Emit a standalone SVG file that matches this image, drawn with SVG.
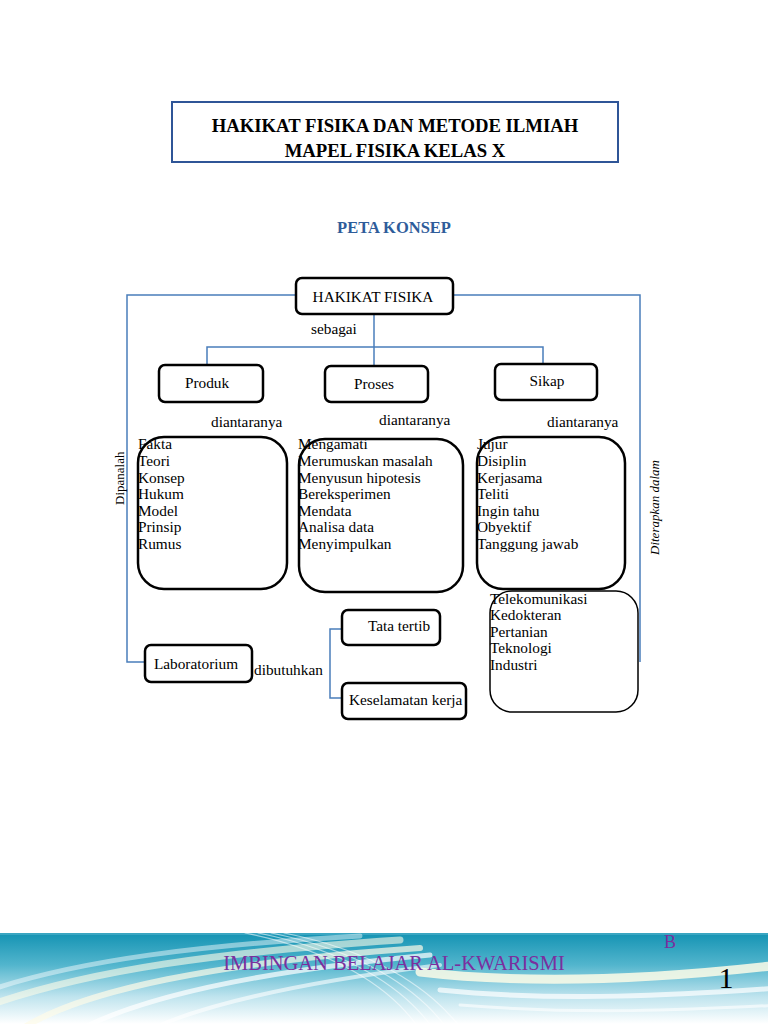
<svg xmlns="http://www.w3.org/2000/svg" width="768" height="1024" viewBox="0 0 768 1024">
<defs>
<linearGradient id="bg" x1="0" y1="0" x2="0" y2="1">
<stop offset="0" stop-color="#1493b3"/>
<stop offset="0.35" stop-color="#52b5cd"/>
<stop offset="0.7" stop-color="#bfe4ee"/>
<stop offset="1" stop-color="#ffffff"/>
</linearGradient>
<clipPath id="bannerClip"><rect x="0" y="933" width="768" height="91"/></clipPath>
</defs>
<style>
.t{font-family:"Liberation Serif","Times New Roman",serif;font-size:15.3px;fill:#000}
.node{fill:#fff;stroke:#000;stroke-width:2.5}
.list{fill:#fff;stroke:#000;stroke-width:2.5}
.conn{fill:none;stroke:#4a7ebb;stroke-width:1.5}
.title{font-family:"Liberation Serif","Times New Roman",serif;font-weight:bold;font-size:18.7px;fill:#000}
</style>
<rect width="768" height="1024" fill="#fff"/>

<g id="title">
<rect x="172" y="102" width="446" height="60" fill="#fff" stroke="#2f5597" stroke-width="2"/>
<text class="title" x="395" y="132" text-anchor="middle">HAKIKAT FISIKA DAN METODE ILMIAH</text>
<text class="title" x="395" y="157" text-anchor="middle">MAPEL FISIKA KELAS X</text>
</g>
<text x="394" y="233" text-anchor="middle" style="font-family:'Liberation Serif',serif;font-weight:bold;font-size:16.5px;fill:#2e5c9a">PETA KONSEP</text>

<g id="connectors">
<path class="conn" d="M296 295 H127 V662 H145"/>
<path class="conn" d="M453 295 H640 V662"/>
<path class="conn" d="M374 314 V366"/>
<path class="conn" d="M207 365 V347 H543 V364"/>
<path class="conn" d="M342 629 H330 V698 H342"/>
</g>

<text class="t" x="311" y="334">sebagai</text>
<text class="t" x="211" y="427">diantaranya</text>
<text class="t" x="379" y="425">diantaranya</text>
<text class="t" x="547" y="427">diantaranya</text>
<text class="t" x="254" y="675">dibutuhkan</text>
<text class="t" x="0" y="0" transform="translate(124,505) rotate(-90)" style="font-size:13px">Dipanalah</text>
<text class="t" x="0" y="0" transform="translate(659,555) rotate(-90)" style="font-size:13px;font-style:italic">Diterapkan dalam</text>

<g id="hakikat">
<rect class="node" x="296" y="278" width="157" height="36" rx="6"/>
<text class="t" x="373" y="302" text-anchor="middle">HAKIKAT FISIKA</text>
</g>
<g id="produk">
<rect class="node" x="159" y="365" width="104" height="37" rx="6"/>
<text class="t" x="207" y="388" text-anchor="middle">Produk</text>
</g>
<g id="proses">
<rect class="node" x="325" y="366" width="103" height="36" rx="6"/>
<text class="t" x="374" y="389" text-anchor="middle">Proses</text>
</g>
<g id="sikap">
<rect class="node" x="495" y="364" width="102" height="36" rx="6"/>
<text class="t" x="547" y="386" text-anchor="middle">Sikap</text>
</g>

<g id="list-produk">
<rect class="list" x="138" y="437" width="149" height="152" rx="26"/>
<text class="t" x="138" y="449">Fakta</text>
<text class="t" x="138" y="466">Teori</text>
<text class="t" x="138" y="483">Konsep</text>
<text class="t" x="138" y="499">Hukum</text>
<text class="t" x="138" y="516">Model</text>
<text class="t" x="138" y="532">Prinsip</text>
<text class="t" x="138" y="549">Rumus</text>
</g>
<g id="list-proses">
<rect class="list" x="299" y="439" width="164" height="153" rx="26"/>
<text class="t" x="298" y="449">Mengamati</text>
<text class="t" x="298" y="466">Merumuskan masalah</text>
<text class="t" x="298" y="483">Menyusun hipotesis</text>
<text class="t" x="298" y="499">Bereksperimen</text>
<text class="t" x="298" y="516">Mendata</text>
<text class="t" x="298" y="532">Analisa data</text>
<text class="t" x="298" y="549">Menyimpulkan</text>
</g>
<g id="list-sikap">
<rect class="list" x="477" y="437" width="148" height="152" rx="26"/>
<text class="t" x="477" y="449">Jujur</text>
<text class="t" x="477" y="466">Disiplin</text>
<text class="t" x="477" y="483">Kerjasama</text>
<text class="t" x="477" y="499">Teliti</text>
<text class="t" x="477" y="516">Ingin tahu</text>
<text class="t" x="477" y="532">Obyektif</text>
<text class="t" x="477" y="549">Tanggung jawab</text>
</g>
<g id="list-terapan">
<rect x="490" y="591" width="148" height="121" rx="22" fill="#fff" stroke="#000" stroke-width="1.5"/>
<text class="t" x="490" y="604">Telekomunikasi</text>
<text class="t" x="490" y="620">Kedokteran</text>
<text class="t" x="490" y="637">Pertanian</text>
<text class="t" x="490" y="653">Teknologi</text>
<text class="t" x="490" y="670">Industri</text>
</g>

<g id="laboratorium">
<rect class="node" x="145" y="645" width="107" height="37" rx="6"/>
<text class="t" x="196" y="669" text-anchor="middle">Laboratorium</text>
</g>
<g id="tatatertib">
<rect class="node" x="342" y="610" width="98" height="35" rx="6"/>
<text class="t" x="399" y="631" text-anchor="middle">Tata tertib</text>
</g>
<g id="keselamatan">
<rect class="node" x="342" y="683" width="124" height="36" rx="6"/>
<text class="t" x="349" y="705">Keselamatan kerja</text>
</g>

<g id="banner" clip-path="url(#bannerClip)">
<rect x="0" y="933" width="768" height="91" fill="url(#bg)"/>
<rect x="0" y="933" width="768" height="2" fill="#3aa6c2"/>
<g fill="none" stroke="#ffffff" stroke-linecap="round">
<path d="M-10 990 C 80 960, 200 945, 360 936" stroke-width="5" opacity="0.45"/>
<path d="M-10 1005 C 90 970, 220 952, 400 940" stroke-width="7" opacity="0.6" stroke="#fdfbe8"/>
<path d="M20 1030 C 80 990, 220 962, 420 948" stroke-width="6" opacity="0.7" stroke="#fdfbe8"/>
<path d="M70 1035 C 130 1000, 250 972, 430 955" stroke-width="5" opacity="0.7"/>
<path d="M130 1040 C 180 1010, 280 985, 440 965" stroke-width="4" opacity="0.6"/>
<path d="M245 933 C 330 950, 390 985, 420 1030" stroke-width="1.2" opacity="0.55"/>
<path d="M258 933 C 343 950, 403 985, 434 1030" stroke-width="1.2" opacity="0.55"/>
<path d="M271 933 C 356 950, 416 985, 448 1030" stroke-width="1.2" opacity="0.55"/>
<path d="M284 933 C 369 950, 429 985, 462 1030" stroke-width="1.2" opacity="0.55"/>
<path d="M420 972 C 530 985, 650 980, 780 965" stroke-width="9" opacity="0.85" stroke="#fdfbe8"/>
<path d="M440 990 C 560 1002, 680 995, 780 988" stroke-width="5" opacity="0.7"/>
<path d="M460 1005 C 580 1015, 690 1010, 780 1005" stroke-width="3" opacity="0.6"/>
</g>
</g>
<text x="394" y="970" text-anchor="middle" style="font-family:'Liberation Serif',serif;font-size:20.5px;fill:#7a2f9e">IMBINGAN BELAJAR AL-KWARISMI</text>
<text x="670" y="948" text-anchor="middle" style="font-family:'Liberation Serif',serif;font-size:18px;fill:#7a2f9e">B</text>
<text x="726" y="988" text-anchor="middle" style="font-family:'Liberation Serif',serif;font-size:30px;fill:#000">1</text>
</svg>
